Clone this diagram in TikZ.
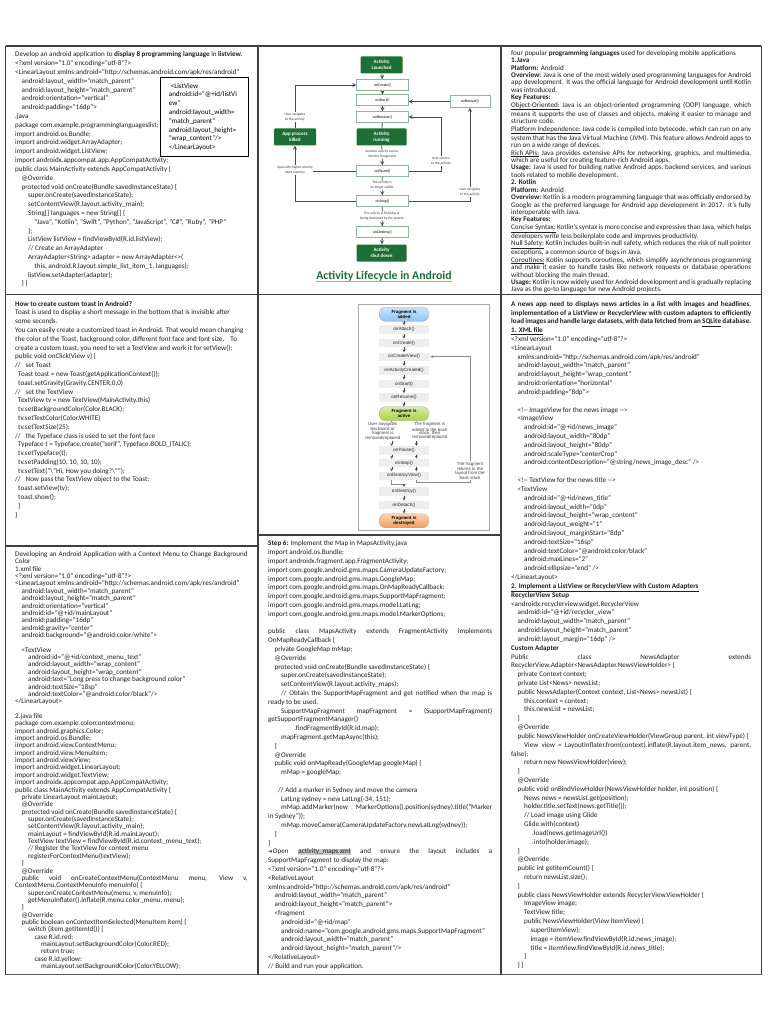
\documentclass[tikz,border=0pt]{standalone}
\usepackage{fontspec}
\setmainfont{Carlito}
\newfontfamily\symfont{DejaVu Sans}
\newfontfamily\fragfont{Liberation Sans}
\usepackage{xcolor}
\definecolor{gridline}{HTML}{3F3F3F}
\definecolor{gridlow}{HTML}{5A5A5A}
\definecolor{lifegreen}{HTML}{1E6F36}
\definecolor{lifeedge}{HTML}{8FB89A}
\definecolor{lifeline}{HTML}{3E4C55}
\definecolor{fragbox}{HTML}{EEEEEE}
\definecolor{fragframe}{HTML}{A9A9A9}
\definecolor{fragblue}{HTML}{8FC3F2}
\definecolor{fraggreen}{HTML}{A9D23F}
\definecolor{fragorange}{HTML}{F89B55}
\newlength{\indstep}
\setlength{\indstep}{6.45pt}
\newcommand{\ia}{\hspace*{1\indstep}}
\newcommand{\ib}{\hspace*{2\indstep}}
\newcommand{\ic}{\hspace*{3\indstep}}
\newcommand{\id}{\hspace*{4\indstep}}
\newcommand{\Ja}[1]{\makebox[232.5pt][s]{#1}}
\newcommand{\Jb}[1]{\makebox[224pt][s]{#1}}
\newcommand{\Jc}[1]{\makebox[240pt][s]{#1}}
\tikzset{
  codeblock/.style={anchor=north west,align=left,inner sep=0pt,text=black!88,font=\fontsize{7.1}{#1}\selectfont},
  popbox/.style={draw=black,fill=white,line width=0.7pt,anchor=north west,align=left,text width=71pt,inner xsep=8.5pt,inner ysep=5.8pt,font=\fontsize{7.1}{8.8}\selectfont},
  lifebox/.style={draw=lifeedge,fill=white,line width=0.6pt,minimum width=51.6pt,minimum height=11pt,inner sep=0pt,font=\fontsize{3.9}{4.5}\selectfont},
  lifestate/.style={fill=lifegreen,rounded corners=1pt,minimum width=#1,minimum height=17pt,inner sep=0pt,align=center,text=white,font=\fontsize{5}{5.7}\bfseries\selectfont},
  lifenote/.style={align=center,inner sep=0.6pt,text=black!80,font=\fontsize{3.5}{4.6}\selectfont},
  lifearrow/.style={draw=lifeline,line width=0.8pt,-stealth},
  lifeplain/.style={draw=lifeline,line width=0.8pt},
  fragstep/.style={fill=fragbox,minimum width=49.3pt,minimum height=8.4pt,inner sep=0pt,text=black!85,font=\fragfont\fontsize{4.6}{5}\selectfont},
  fragstate/.style={draw=black!35,line width=0.3pt,top color=#1!45,bottom color=#1,rounded corners=6pt,minimum width=49.3pt,minimum height=14pt,inner sep=0pt,align=center,font=\fragfont\fontsize{4.4}{4.1}\bfseries\selectfont},
  fragnote/.style={align=center,inner sep=0.5pt,text=black!75,font=\fragfont\fontsize{4.4}{3.9}\selectfont},
  fragarrow/.style={draw=black!75,line width=0.35pt,-stealth},
  fragreturn/.style={draw=black!45,line width=0.5pt},
}
\begin{document}
\begin{tikzpicture}[x=1pt,y=-1pt]
\useasboundingbox (0,0) rectangle (768,1024);
\fill[white] (0,0) rectangle (768,1024);

\node[codeblock=8.81] (listviewtext) at (15,51.7) {Develop an android application to \textbf{display 8 programming language} in \textbf{listview.}\\
<?xml version="1.0" encoding="utf-8"?>\\
<LinearLayout xmlns:android="http://schemas.android.com/apk/res/android"\\
\ia android:layout\_width="match\_parent"\\
\ia android:layout\_height="match\_parent"\\
\ia android:orientation="vertical"\\
\ia android:padding="16dp">\\
.java\\
package com.example.programminglanguageslist;\\
import android.os.Bundle;\\
import android.widget.ArrayAdapter;\\
import android.widget.ListView;\\
import androidx.appcompat.app.AppCompatActivity;\\
public class MainActivity extends AppCompatActivity \{\\
\ia @Override\\
\ia protected void onCreate(Bundle savedInstanceState) \{\\
\ib super.onCreate(savedInstanceState);\\
\ib setContentView(R.layout.activity\_main);\\
\ib String[] languages = new String[] \{\\
\ic "Java", "Kotlin", "Swift", "Python", "JavaScript", "C\#", "Ruby", "PHP"\\
\ib \};\\
\ib ListView listView = findViewById(R.id.listView);\\
\ib // Create an ArrayAdapter\\
\ib ArrayAdapter<String> adapter = new ArrayAdapter<>(\\
\ic this, android.R.layout.simple\_list\_item\_1, languages);\\
\ib listView.setAdapter(adapter);\\
\ia \} \}};
\node[popbox] (listviewbox) at (160,77) {\hspace*{2pt}<ListView\\
android:id="@+id/listVi\\
ew"\\
android:layout\_width=\\
"match\_parent"\\
android:layout\_height=\\
"wrap\_content"/>\\
</LinearLayout>};

\node[codeblock=8.79] (toasttext) at (15,301) {\textbf{How to create custom toast in Android?}\\
Toast is used to display a short message in the bottom that is invisible after\\
some seconds.\\
You can easily create a customized toast in Android. That would mean changing\\
the color of the Toast, background color, different font face and font size. \hspace{4pt}To\\
create a custom toast, you need to set a TextView and work it for setView():\\
public void onClick(View v) \{\\
//\hspace{5pt}set Toast\\
\hspace*{3pt}Toast toast = new Toast(getApplicationContext());\\
\hspace*{3pt}toast.setGravity(Gravity.CENTER,0,0)\\
//\hspace{5pt}set the TextView\\
\hspace*{3pt}TextView tv = new TextView(MainActivity.this)\\
\hspace*{3pt}tv.setBackgroundColor(Color.BLACK);\\
\hspace*{3pt}tv.setTextColor(Color.WHITE)\\
\hspace*{3pt}tv.setTextSize(25);\\
//\hspace{5pt}the Typeface class is used to set the font face\\
\hspace*{3pt}Typeface t = Typeface.create("serif", Typeface.BOLD\_ITALIC);\\
\hspace*{3pt}tv.setTypeface(t);\\
\hspace*{3pt}tv.setPadding(10, 10, 10, 10);\\
\hspace*{3pt}tv.setText("\textbackslash"Hi, How you doing?\textbackslash"");\\
//\hspace{5pt}Now pass the TextView object to the Toast:\\
\hspace*{3pt}toast.setView(tv);\\
\hspace*{3pt}toast.show();\\
\hspace*{3pt}\}\\
\}};

\node[codeblock=7.36] (contexttext) at (15,551.4) {\Ja{Developing an Android Application with a Context Menu to Change Background}\\
Color\\
1.xml file\\
<?xml version="1.0" encoding="utf-8"?>\\
<LinearLayout xmlns:android="http://schemas.android.com/apk/res/android"\\
\ia android:layout\_width="match\_parent"\\
\ia android:layout\_height="match\_parent"\\
\ia android:orientation="vertical"\\
\ia android:id="@+id/mainLayout"\\
\ia android:padding="16dp"\\
\ia android:gravity="center"\\
\ia android:background="@android:color/white">\\
\mbox{}\\
\ia <TextView\\
\ib android:id="@+id/context\_menu\_text"\\
\ib android:layout\_width="wrap\_content"\\
\ib android:layout\_height="wrap\_content"\\
\ib android:text="Long press to change background color"\\
\ib android:textSize="18sp"\\
\ib android:textColor="@android:color/black"/>\\
</LinearLayout>\\
\mbox{}\\
2.java file\\
package com.example.colorcontextmenu;\\
import android.graphics.Color;\\
import android.os.Bundle;\\
import android.view.ContextMenu;\\
import android.view.MenuItem;\\
import android.view.View;\\
import android.widget.LinearLayout;\\
import android.widget.TextView;\\
import androidx.appcompat.app.AppCompatActivity;\\
public class MainActivity extends AppCompatActivity \{\\
\ia private LinearLayout mainLayout;\\
\ia @Override\\
\ia protected void onCreate(Bundle savedInstanceState) \{\\
\ib super.onCreate(savedInstanceState);\\
\ib setContentView(R.layout.activity\_main);\\
\ib mainLayout = findViewById(R.id.mainLayout);\\
\ib TextView textView = findViewById(R.id.context\_menu\_text);\\
\ib // Register the TextView for context menu\\
\ib registerForContextMenu(textView);\\
\ia \}\\
\ia @Override\\
\Ja{\ia public void onCreateContextMenu(ContextMenu menu, View v,}\\
ContextMenu.ContextMenuInfo menuInfo) \{\\
\ib super.onCreateContextMenu(menu, v, menuInfo);\\
\ib getMenuInflater().inflate(R.menu.color\_menu, menu);\\
\ia \}\\
\ia @Override\\
\ia public boolean onContextItemSelected(MenuItem item) \{\\
\ib switch (item.getItemId()) \{\\
\ic case R.id.red:\\
\id mainLayout.setBackgroundColor(Color.RED);\\
\id return true;\\
\ic case R.id.yellow:\\
\id mainLayout.setBackgroundColor(Color.YELLOW);};

\node[codeblock=8.8] (mapstext) at (268,540.7) {\textbf{Step 6:} Implement the Map in MapsActivity.java\\
import android.os.Bundle;\\
import androidx.fragment.app.FragmentActivity;\\
import com.google.android.gms.maps.CameraUpdateFactory;\\
import com.google.android.gms.maps.GoogleMap;\\
import com.google.android.gms.maps.OnMapReadyCallback;\\
import com.google.android.gms.maps.SupportMapFragment;\\
import com.google.android.gms.maps.model.LatLng;\\
import com.google.android.gms.maps.model.MarkerOptions;\\
\mbox{}\\
\Jb{public class MapsActivity extends FragmentActivity implements}\\
OnMapReadyCallback \{\\
\ia private GoogleMap mMap;\\
\ia @Override\\
\ia protected void onCreate(Bundle savedInstanceState) \{\\
\ib super.onCreate(savedInstanceState);\\
\ib setContentView(R.layout.activity\_maps);\\
\Jb{\ib // Obtain the SupportMapFragment and get notified when the map is}\\
ready to be used.\\
\Jb{\ib SupportMapFragment mapFragment = (SupportMapFragment)}\\
getSupportFragmentManager()\\
\hspace*{26pt}.findFragmentById(R.id.map);\\
\ib mapFragment.getMapAsync(this);\\
\ia \}\\
\ia @Override\\
\ia public void onMapReady(GoogleMap googleMap) \{\\
\ib mMap = googleMap;\\
\mbox{}\\
\hspace*{10pt}// Add a marker in Sydney and move the camera\\
\ib LatLng sydney = new LatLng(-34, 151);\\
\Jb{\ib mMap.addMarker(new MarkerOptions().position(sydney).title("Marker}\\
in Sydney"));\\
\ib mMap.moveCamera(CameraUpdateFactory.newLatLng(sydney));\\
\ia \}\\
\}\\
\Jb{{\symfont\fontsize{5.6}{7}\selectfont ➔}Open \setlength{\fboxsep}{0.4pt}\colorbox{black!22}{activity\_maps.xml} and ensure the layout includes a}\\
SupportMapFragment to display the map:\\
<?xml version="1.0" encoding="utf-8"?>\\
<RelativeLayout\\
xmlns:android="http://schemas.android.com/apk/res/android"\\
\ia android:layout\_width="match\_parent"\\
\ia android:layout\_height="match\_parent">\\
\ia <fragment\\
\ib android:id="@+id/map"\\
\ib android:name="com.google.android.gms.maps.SupportMapFragment"\\
\ib android:layout\_width="match\_parent"\\
\ib android:layout\_height="match\_parent"/>\\
</RelativeLayout>\\
// Build and run your application.};

\node[codeblock=7.41] (languagetext) at (511,50) {four popular \textbf{programming languages} used for developing mobile applications\\
\textbf{1.Java}\\
\textbf{Platform:} Android\\
\Jc{\textbf{Overview:} Java is one of the most widely used programming languages for Android}\\
\Jc{app development. It was the official language for Android development until Kotlin}\\
was introduced.\\
\textbf{Key Features:}\\
\Jc{\underline{Object-Oriented:} Java is an object-oriented programming (OOP) language, which}\\
\Jc{means it supports the use of classes and objects, making it easier to manage and}\\
structure code.\\
\Jc{\underline{Platform Independence:} Java code is compiled into bytecode, which can run on any}\\
\Jc{system that has the Java Virtual Machine (JVM). This feature allows Android apps to}\\
run on a wide range of devices.\\
\Jc{\underline{Rich APIs:} Java provides extensive APIs for networking, graphics, and multimedia,}\\
which are useful for creating feature-rich Android apps.\\
\Jc{\textbf{Usage:} Java is used for building native Android apps, backend services, and various}\\
tools related to mobile development.\\
\textbf{2. Kotlin}\\
\textbf{Platform:} Android\\
\Jc{\textbf{Overview:} Kotlin is a modern programming language that was officially endorsed by}\\
\Jc{Google as the preferred language for Android app development in 2017. It's fully}\\
interoperable with Java.\\
\textbf{Key Features:}\\
\Jc{\underline{Concise Syntax:} Kotlin's syntax is more concise and expressive than Java, which helps}\\
developers write less boilerplate code and improves productivity.\\
\Jc{\underline{Null Safety:} Kotlin includes built-in null safety, which reduces the risk of null pointer}\\
exceptions, a common source of bugs in Java.\\
\Jc{\underline{Coroutines:} Kotlin supports coroutines, which simplify asynchronous programming}\\
\Jc{and make it easier to handle tasks like network requests or database operations}\\
without blocking the main thread.\\
\Jc{\textbf{Usage:} Kotlin is now widely used for Android development and is gradually replacing}\\
Java as the go-to language for new Android projects.};

\node[codeblock=8.82] (newstext) at (511,301) {\Jc{\textbf{A news app need to displays news articles in a list with images and headlines.}}\\
\Jc{\textbf{implementation of a ListView or RecyclerView with custom adapters to efficiently}}\\
\Jc{\textbf{load images and handle large datasets, with data fetched from an \underline{SQLite} database.}}\\
\textbf{\underline{1. XML file}}\\
<?xml version="1.0" encoding="utf-8"?>\\
<LinearLayout\\
\ia xmlns:android="http://schemas.android.com/apk/res/android"\\
\ia android:layout\_width="match\_parent"\\
\ia android:layout\_height="wrap\_content"\\
\ia android:orientation="horizontal"\\
\ia android:padding="8dp">\\
\mbox{}\\
\ia <!-{}- ImageView for the news image -{}->\\
\ia <ImageView\\
\ib android:id="@+id/news\_image"\\
\ib android:layout\_width="80dp"\\
\ib android:layout\_height="80dp"\\
\ib android:scaleType="centerCrop"\\
\ib android:contentDescription="@string/news\_image\_desc" />\\
\mbox{}\\
\ia <!-{}- TextView for the news title -{}->\\
\ia <TextView\\
\ib android:id="@+id/news\_title"\\
\ib android:layout\_width="0dp"\\
\ib android:layout\_height="wrap\_content"\\
\ib android:layout\_weight="1"\\
\ib android:layout\_marginStart="8dp"\\
\ib android:textSize="16sp"\\
\ib android:textColor="@android:color/black"\\
\ib android:maxLines="2"\\
\ib android:ellipsize="end" />\\
</LinearLayout>\\
\textbf{\underline{2. Implement a ListView or RecyclerView with Custom Adapters}}\\
\textbf{RecyclerView Setup}\\
<androidx.recyclerview.widget.RecyclerView\\
\ia android:id="@+id/recycler\_view"\\
\ia android:layout\_width="match\_parent"\\
\ia android:layout\_height="match\_parent"\\
\ia android:layout\_margin="16dp" />\\
\textbf{Custom Adapter}\\
\Jc{Public class NewsAdapter extends}\\
RecyclerView.Adapter<NewsAdapter.NewsViewHolder> \{\\
\ia private Context context;\\
\ia private List<News> newsList;\\
\ia public NewsAdapter(Context context, List<News> newsList) \{\\
\ib this.context = context;\\
\ib this.newsList = newsList;\\
\ia \}\\
\ia @Override\\
\ia public NewsViewHolder onCreateViewHolder(ViewGroup parent, int viewType) \{\\
\Jc{\ib View view = LayoutInflater.from(context).inflate(R.layout.item\_news, parent,}\\
false);\\
\ib return new NewsViewHolder(view);\\
\ia \}\\
\ia @Override\\
\ia public void onBindViewHolder(NewsViewHolder holder, int position) \{\\
\ib News news = newsList.get(position);\\
\ib holder.title.setText(news.getTitle());\\
\ib // Load image using Glide\\
\ib Glide.with(context)\\
\hspace*{21pt}.load(news.getImageUrl())\\
\hspace*{21pt}.into(holder.image);\\
\ia \}\\
\ia @Override\\
\ia public int getItemCount() \{\\
\ib return newsList.size();\\
\ia \}\\
\ia public class NewsViewHolder extends RecyclerView.ViewHolder \{\\
\ib ImageView image;\\
\ib TextView title;\\
\ib public NewsViewHolder(View itemView) \{\\
\ic super(itemView);\\
\ic image = itemView.findViewById(R.id.news\_image);\\
\ic title = itemView.findViewById(R.id.news\_title);\\
\ib \}\\
\ia \} \}};

\node[lifestate=42pt] (launched) at (381.5,65) {Activity\\Launched};
\node[lifebox] (oncreate) at (382.5,85) {onCreate()};
\node[lifebox] (onstart) at (382.5,100.3) {onStart()};
\node[lifebox] (onresume) at (382.5,117) {onResume()};
\node[lifestate=50pt] (running) at (381.5,137) {Activity\\running};
\node[lifebox] (onpause) at (382.5,171) {onPause()};
\node[lifebox] (onstop) at (382.5,201) {onStop()};
\node[lifebox] (ondestroy) at (382.5,232) {onDestroy()};
\node[lifestate=50pt] (shutdown) at (381.5,253) {Activity\\shut down};
\node[lifebox,minimum width=39.6pt,minimum height=12pt] (onrestart) at (470,101.5) {onRestart()};
\node[lifestate=42pt] (killed) at (295,137) {App process\\killed};
\node[lifenote] (backnote) at (295,117) {User navigates\\to the activity};
\node[lifenote] (memorynote) at (295,170) {Apps with higher priority\\need memory};
\node[lifenote] (foregroundnote) at (382,154) {Another activity comes\\into the foreground};
\node[lifenote] (visiblenote) at (382,185) {The activity is\\no longer visible};
\node[lifenote] (finishnote) at (382,216) {The activity is finishing or\\being destroyed by the system};
\node[lifenote] (returnnote) at (441,161) {User returns\\to the activity};
\node[lifenote] (navnote) at (470,192) {User navigates\\to the activity};
\node[text=lifegreen,inner sep=0pt,font=\fontsize{11.8}{14}\bfseries\selectfont] (lifetitle) at (384,276) {Activity Lifecycle in Android};

\draw[lifearrow] (launched) -- (oncreate);
\draw[lifearrow] (oncreate) -- (onstart);
\draw[lifearrow] (onstart) -- (onresume);
\draw[lifeplain] (onresume) -- (running);
\draw[lifeplain] (running) -- (foregroundnote);
\draw[lifearrow] (foregroundnote) -- (onpause);
\draw[lifeplain] (onpause) -- (visiblenote);
\draw[lifearrow] (visiblenote) -- (onstop);
\draw[lifeplain] (onstop) -- (finishnote);
\draw[lifearrow] (finishnote) -- (ondestroy);
\draw[lifearrow] (ondestroy) -- (shutdown);
\draw[lifearrow] (onrestart) -- (onrestart -| onstart.east);
\draw[lifeplain] (onpause.west) -- (memorynote.east |- onpause.west);
\draw[lifeplain] (onstop.west) -| (memorynote.south);
\draw[lifearrow] (memorynote.north) -- (killed.south);
\draw[lifeplain] (killed.north) -- (backnote.south);
\draw[lifearrow] (backnote.north) |- (oncreate.west);
\draw[lifeplain] (onpause.east) -| (returnnote.south);
\draw[lifearrow] (returnnote.north) |- (onresume.east);
\draw[lifeplain] (onstop.east) -| (navnote.south);
\draw[lifearrow] (navnote.north) -- (onrestart.south);
\draw[draw=lifeedge,line width=0.7pt] (lifetitle.south west) -- (lifetitle.south east);

\draw[fragframe,line width=0.9pt] (358,304) rectangle (489.7,530.7);
\node[fragstate=fragblue] (added) at (404,314.3) {Fragment is\\added};
\node[fragstep] (fattach) at (404,329.5) {onAttach()};
\node[fragstep] (fcreate) at (404,343) {onCreate()};
\node[fragstep] (fcreateview) at (404,356.7) {onCreateView()};
\node[fragstep] (factivity) at (404,370.3) {onActivityCreated()};
\node[fragstep] (fstart) at (404,384) {onStart()};
\node[fragstep] (fresume) at (404,397.5) {onResume()};
\node[fragstate=fraggreen] (active) at (404,413.7) {Fragment is\\active};
\node[fragstep] (fpause) at (404,450.3) {onPause()};
\node[fragstep] (fstop) at (404,463) {onStop()};
\node[fragstep] (fdestroyview) at (404,475.7) {onDestroyView()};
\node[fragstep] (fdestroy) at (404,491.3) {onDestroy()};
\node[fragstep] (fdetach) at (404,505) {onDetach()};
\node[fragstate=fragorange] (destroyed) at (404,520.8) {Fragment is\\destroyed};
\node[fragnote] (removednote) at (382.7,431.3) {User navigates\\backward or\\fragment is\\removed/replaced};
\node[fragnote] (stacknote) at (429.7,431.3) {The fragment is\\added to the back\\stack, then\\removed/replaced};
\node[fragnote] (returnsnote) at (470,470.7) {The fragment\\returns to the\\layout from the\\back stack};
\coordinate (lefttrack) at (391.7,0);
\coordinate (righttrack) at (416.3,0);
\coordinate (mergeturn) at (404,484);
\coordinate (returnturn) at (470,482.7);

\draw[fragarrow] (added) -- (fattach);
\draw[fragarrow] (fattach) -- (fcreate);
\draw[fragarrow] (fcreate) -- (fcreateview);
\draw[fragarrow] (fcreateview) -- (factivity);
\draw[fragarrow] (factivity) -- (fstart);
\draw[fragarrow] (fstart) -- (fresume);
\draw[fragarrow] (fresume) -- (active);
\draw[fragarrow] (fdestroy) -- (fdetach);
\draw[fragarrow] (fdetach) -- (destroyed);
\draw[fragreturn] (active.south -| lefttrack) -- (removednote.north -| lefttrack);
\draw[fragreturn] (active.south -| righttrack) -- (stacknote.north -| righttrack);
\draw[fragarrow] (removednote.south -| lefttrack) -- (fpause.north -| lefttrack);
\draw[fragarrow] (stacknote.south -| righttrack) -- (fpause.north -| righttrack);
\draw[fragarrow] (fpause.south -| lefttrack) -- (fstop.north -| lefttrack);
\draw[fragarrow] (fpause.south -| righttrack) -- (fstop.north -| righttrack);
\draw[fragarrow] (fstop.south -| lefttrack) -- (fdestroyview.north -| lefttrack);
\draw[fragarrow] (fstop.south -| righttrack) -- (fdestroyview.north -| righttrack);
\draw[fragreturn] (fdestroyview.south -| lefttrack) |- (mergeturn);
\draw[fragarrow] (mergeturn) -- (fdestroy.north);
\draw[fragreturn] (fdestroyview.south -| righttrack) |- (returnturn) -- (returnsnote.south);
\draw[fragreturn,-stealth,shorten >=1.3pt] (returnsnote.north) |- (fcreateview.east);

\draw[gridline,line width=1.4pt] (5.5,46) -- (761,46);
\draw[gridline,line width=1.4pt] (5.5,294.5) -- (761,294.5);
\draw[gridline,line width=1.4pt] (5.5,546) -- (258,546);
\draw[gridline,line width=1.4pt] (258,535) -- (501,535);
\draw[gridlow,line width=1.4pt] (5.5,974.5) -- (761,974.5);
\draw[gridline,line width=1.4pt] (5.5,46) -- (5.5,974.5);
\draw[gridline,line width=1.4pt] (258,46) -- (258,974.5);
\draw[gridline,line width=1.4pt] (501,46) -- (501,974.5);
\draw[gridline,line width=1pt] (761,46) -- (761,974.5);
\end{tikzpicture}
\end{document}
